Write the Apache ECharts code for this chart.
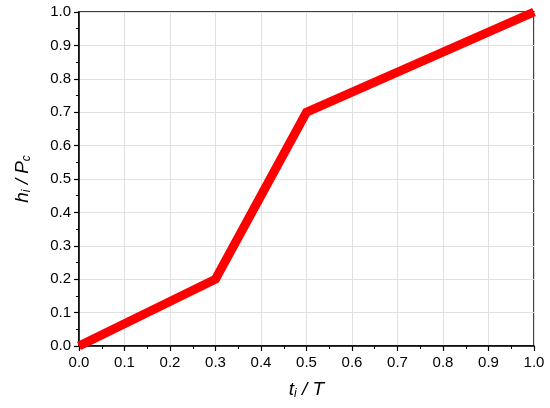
<!DOCTYPE html><html><head><meta charset="utf-8"><script src="https://cdn.jsdelivr.net/npm/echarts@6/dist/echarts.min.js"></script></head><body style="margin:0"><div id="c" style="width:550px;height:408px"></div><script>
const tValues=[0,0.3,0.5,1.0];
const hValues=[0,0.2,0.7,1.0];
const ch=echarts.init(document.getElementById('c'));
const ax={type:'value',min:0,max:1,interval:0.1,
 axisLine:{show:true,lineStyle:{color:'#000',width:1.5}},
 axisTick:{show:true,inside:false,length:5,lineStyle:{color:'#000',width:1.2}},
 minorTick:{show:true,splitNumber:2,length:3,lineStyle:{color:'#000',width:1}},
 splitLine:{show:true,lineStyle:{color:'#e0e0e0',width:1}},
 axisLabel:{color:'#000',fontFamily:'Liberation Sans',fontSize:15,formatter:v=>v.toFixed(1)}};
const rich={i:{fontStyle:'italic',fontSize:19,fontFamily:'Liberation Sans',color:'#000'},s:{fontStyle:'italic',fontSize:12,fontFamily:'Liberation Sans',color:'#000',verticalAlign:'bottom',padding:[8,0,0,0]}};
ch.setOption({animation:false,
 grid:{left:79,right:16,top:12,bottom:62,show:true,borderColor:'#000',borderWidth:1.5},
 xAxis:Object.assign({},ax,{name:'{i|t}{s|i}{i| / T}',nameLocation:'middle',nameGap:34,nameTextStyle:{rich},
  axisLabel:Object.assign({},ax.axisLabel,{margin:9})}),
 yAxis:Object.assign({},ax,{name:'{i|h}{s|i}{i| / P}{s|c}',nameLocation:'middle',nameGap:46,nameTextStyle:{rich},
  axisLabel:Object.assign({},ax.axisLabel,{margin:8})}),
 series:[{type:'line',data:tValues.map((t,i)=>[t,hValues[i]]),symbol:'none',lineStyle:{color:'#ff0000',width:9,join:'miter'}}]
});
</script></body></html>
